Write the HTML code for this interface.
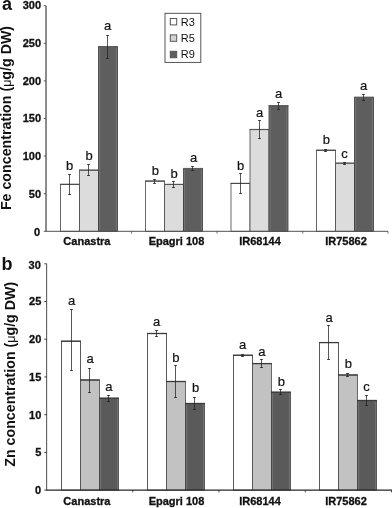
<!DOCTYPE html>
<html lang="en"><head><meta charset="utf-8"><title>Fe and Zn concentration</title>
<style>html,body{margin:0;padding:0;background:#fff}svg{display:block}</style></head>
<body>
<svg width="392" height="508" viewBox="0 0 392 508">
<rect width="392" height="508" fill="#fff"/>
<rect x="60.5" y="184.35" width="19.0" height="46.95" fill="#ffffff" stroke="#444" stroke-width="0.8"/>
<path d="M60.1 184.35H79.9" stroke="#4a4a4a" stroke-width="1.2"/>
<rect x="79.5" y="170.15" width="19.0" height="61.15" fill="#dcdcdc" stroke="#484848" stroke-width="0.8"/>
<path d="M79.1 170.15H98.9" stroke="#555" stroke-width="1.2"/>
<rect x="98.5" y="46.6" width="19.0" height="184.70" fill="#5e5e5e" stroke="#3c3c3c" stroke-width="0.8"/>
<path d="M98.1 46.6H117.9" stroke="#5e5e5e" stroke-width="1.2"/>
<path d="M99.6 47.60V230.8M116.4 47.60V230.8" stroke="#747474" stroke-width="1" fill="none"/>
<rect x="145.5" y="181.1" width="19.0" height="50.20" fill="#ffffff" stroke="#444" stroke-width="0.8"/>
<path d="M145.1 181.1H164.9" stroke="#4a4a4a" stroke-width="1.2"/>
<rect x="164.5" y="184.4" width="19.0" height="46.90" fill="#dcdcdc" stroke="#484848" stroke-width="0.8"/>
<path d="M164.1 184.4H183.9" stroke="#555" stroke-width="1.2"/>
<rect x="183.5" y="168.5" width="19.0" height="62.80" fill="#5e5e5e" stroke="#3c3c3c" stroke-width="0.8"/>
<path d="M183.1 168.5H202.9" stroke="#5e5e5e" stroke-width="1.2"/>
<path d="M184.6 169.50V230.8M201.4 169.50V230.8" stroke="#747474" stroke-width="1" fill="none"/>
<rect x="231" y="183.4" width="19" height="47.90" fill="#ffffff" stroke="#444" stroke-width="0.8"/>
<path d="M230.6 183.4H250.4" stroke="#4a4a4a" stroke-width="1.2"/>
<rect x="250" y="129.5" width="19" height="101.80" fill="#dcdcdc" stroke="#484848" stroke-width="0.8"/>
<path d="M249.6 129.5H269.4" stroke="#555" stroke-width="1.2"/>
<rect x="269" y="105.75" width="19" height="125.55" fill="#5e5e5e" stroke="#3c3c3c" stroke-width="0.8"/>
<path d="M268.6 105.75H288.4" stroke="#5e5e5e" stroke-width="1.2"/>
<path d="M270.1 106.75V230.8M286.9 106.75V230.8" stroke="#747474" stroke-width="1" fill="none"/>
<rect x="316.5" y="150.25" width="19.0" height="81.05" fill="#ffffff" stroke="#444" stroke-width="0.8"/>
<path d="M316.1 150.25H335.9" stroke="#4a4a4a" stroke-width="1.2"/>
<rect x="335.5" y="163.2" width="19.0" height="68.10" fill="#dcdcdc" stroke="#484848" stroke-width="0.8"/>
<path d="M335.1 163.2H354.9" stroke="#555" stroke-width="1.2"/>
<rect x="354.5" y="97.3" width="19.0" height="134.00" fill="#5e5e5e" stroke="#3c3c3c" stroke-width="0.8"/>
<path d="M354.1 97.3H373.9" stroke="#5e5e5e" stroke-width="1.2"/>
<path d="M355.6 98.30V230.8M372.4 98.30V230.8" stroke="#747474" stroke-width="1" fill="none"/>
<path d="M69.5 174.0V195.0M68.0 174.5h3M68.0 194.5h3" stroke="#222" stroke-width="0.75" fill="none"/>
<text x="69.60" y="170.00" font-size="13" text-anchor="middle" fill="#111" stroke="#111" stroke-width="0.2" font-family="Liberation Sans, Arial, sans-serif">b</text>
<path d="M88.5 164.0V176.0M87.0 164.5h3M87.0 175.5h3" stroke="#222" stroke-width="0.75" fill="none"/>
<text x="89.00" y="160.00" font-size="13" text-anchor="middle" fill="#111" stroke="#111" stroke-width="0.2" font-family="Liberation Sans, Arial, sans-serif">b</text>
<path d="M107.5 35.0V59.0M106.0 35.5h3M106.0 58.5h3" stroke="#222" stroke-width="0.75" fill="none"/>
<text x="107.60" y="30.00" font-size="13" text-anchor="middle" fill="#111" stroke="#111" stroke-width="0.2" font-family="Liberation Sans, Arial, sans-serif">a</text>
<path d="M154.5 179.0V184.0M153.0 179.5h3M153.0 183.5h3" stroke="#222" stroke-width="0.75" fill="none"/>
<text x="155.25" y="175.00" font-size="13" text-anchor="middle" fill="#111" stroke="#111" stroke-width="0.2" font-family="Liberation Sans, Arial, sans-serif">b</text>
<path d="M173.5 181.0V188.0M172.0 181.5h3M172.0 187.5h3" stroke="#222" stroke-width="0.75" fill="none"/>
<text x="174.00" y="177.50" font-size="13" text-anchor="middle" fill="#111" stroke="#111" stroke-width="0.2" font-family="Liberation Sans, Arial, sans-serif">b</text>
<path d="M192.5 166.0V171.0M191.0 166.5h3M191.0 170.5h3" stroke="#222" stroke-width="0.75" fill="none"/>
<text x="193.50" y="162.00" font-size="13" text-anchor="middle" fill="#111" stroke="#111" stroke-width="0.2" font-family="Liberation Sans, Arial, sans-serif">a</text>
<path d="M240.5 173.0V194.0M239.0 173.5h3M239.0 193.5h3" stroke="#222" stroke-width="0.75" fill="none"/>
<text x="240.60" y="170.00" font-size="13" text-anchor="middle" fill="#111" stroke="#111" stroke-width="0.2" font-family="Liberation Sans, Arial, sans-serif">b</text>
<path d="M259.5 120.0V139.0M258.0 120.5h3M258.0 138.5h3" stroke="#222" stroke-width="0.75" fill="none"/>
<text x="259.50" y="117.00" font-size="13" text-anchor="middle" fill="#111" stroke="#111" stroke-width="0.2" font-family="Liberation Sans, Arial, sans-serif">a</text>
<path d="M278.5 102.0V110.0M277.0 102.5h3M277.0 109.5h3" stroke="#222" stroke-width="0.75" fill="none"/>
<text x="278.50" y="98.25" font-size="13" text-anchor="middle" fill="#111" stroke="#111" stroke-width="0.2" font-family="Liberation Sans, Arial, sans-serif">a</text>
<path d="M325.5 149.0V152.0M324.0 149.5h3M324.0 151.5h3" stroke="#222" stroke-width="0.75" fill="none"/>
<text x="326.25" y="144.00" font-size="13" text-anchor="middle" fill="#111" stroke="#111" stroke-width="0.2" font-family="Liberation Sans, Arial, sans-serif">b</text>
<path d="M344.5 162.0V165.0M343.0 162.5h3M343.0 164.5h3" stroke="#222" stroke-width="0.75" fill="none"/>
<text x="344.60" y="157.75" font-size="13" text-anchor="middle" fill="#111" stroke="#111" stroke-width="0.2" font-family="Liberation Sans, Arial, sans-serif">c</text>
<path d="M363.5 94.0V101.0M362.0 94.5h3M362.0 100.5h3" stroke="#222" stroke-width="0.75" fill="none"/>
<text x="363.60" y="89.50" font-size="13" text-anchor="middle" fill="#111" stroke="#111" stroke-width="0.2" font-family="Liberation Sans, Arial, sans-serif">a</text>
<path d="M46 5.7V231.3" stroke="#8c8c8c" stroke-width="2" fill="none"/>
<path d="M45.5 231.3H388" stroke="#505050" stroke-width="1" fill="none"/>
<path d="M131.5 231.3v2.3" stroke="#505050" stroke-width="0.8"/>
<path d="M217 231.3v2.3" stroke="#505050" stroke-width="0.8"/>
<path d="M302.75 231.3v2.3" stroke="#505050" stroke-width="0.8"/>
<path d="M388 231.3v2.3" stroke="#505050" stroke-width="0.8"/>
<path d="M43.7 231.30h2.3" stroke="#505050" stroke-width="0.9"/>
<text x="40.10" y="235.70" font-size="11" font-weight="bold" text-anchor="end" fill="#111" stroke="#111" stroke-width="0.3" font-family="Liberation Sans, Arial, sans-serif">0</text>
<path d="M43.7 193.70h2.3" stroke="#505050" stroke-width="0.9"/>
<text x="41.10" y="197.70" font-size="11" font-weight="bold" text-anchor="end" fill="#111" stroke="#111" stroke-width="0.3" font-family="Liberation Sans, Arial, sans-serif">50</text>
<path d="M43.7 156.10h2.3" stroke="#505050" stroke-width="0.9"/>
<text x="41.10" y="159.70" font-size="11" font-weight="bold" text-anchor="end" fill="#111" stroke="#111" stroke-width="0.3" font-family="Liberation Sans, Arial, sans-serif">100</text>
<path d="M43.7 118.50h2.3" stroke="#505050" stroke-width="0.9"/>
<text x="41.10" y="122.10" font-size="11" font-weight="bold" text-anchor="end" fill="#111" stroke="#111" stroke-width="0.3" font-family="Liberation Sans, Arial, sans-serif">150</text>
<path d="M43.7 80.90h2.3" stroke="#505050" stroke-width="0.9"/>
<text x="41.10" y="84.50" font-size="11" font-weight="bold" text-anchor="end" fill="#111" stroke="#111" stroke-width="0.3" font-family="Liberation Sans, Arial, sans-serif">200</text>
<path d="M43.7 43.30h2.3" stroke="#505050" stroke-width="0.9"/>
<text x="41.10" y="46.90" font-size="11" font-weight="bold" text-anchor="end" fill="#111" stroke="#111" stroke-width="0.3" font-family="Liberation Sans, Arial, sans-serif">250</text>
<path d="M43.7 5.70h2.3" stroke="#505050" stroke-width="0.9"/>
<text x="41.10" y="9.30" font-size="11" font-weight="bold" text-anchor="end" fill="#111" stroke="#111" stroke-width="0.3" font-family="Liberation Sans, Arial, sans-serif">300</text>
<text x="86.9" y="244.5" font-size="11" font-weight="bold" text-anchor="middle" fill="#111" stroke="#111" stroke-width="0.3" font-family="Liberation Sans, Arial, sans-serif">Canastra</text>
<text x="176.5" y="244.5" font-size="11" font-weight="bold" text-anchor="middle" fill="#111" stroke="#111" stroke-width="0.3" font-family="Liberation Sans, Arial, sans-serif">Epagri 108</text>
<text x="260" y="244.5" font-size="11" font-weight="bold" text-anchor="middle" fill="#111" stroke="#111" stroke-width="0.3" font-family="Liberation Sans, Arial, sans-serif">IR68144</text>
<text x="346" y="244.5" font-size="11" font-weight="bold" text-anchor="middle" fill="#111" stroke="#111" stroke-width="0.3" font-family="Liberation Sans, Arial, sans-serif">IR75862</text>
<rect x="165" y="13.3" width="35.8" height="49.1" fill="#fff" stroke="#444" stroke-width="0.9"/>
<rect x="170.3" y="18.50" width="6.4" height="6.4" fill="#ffffff" stroke="#555" stroke-width="1"/>
<text x="180.8" y="25.50" font-size="11" fill="#111" font-family="Liberation Sans, Arial, sans-serif">R3</text>
<rect x="170.3" y="34.90" width="6.4" height="6.4" fill="#d4d4d4" stroke="#555" stroke-width="1"/>
<text x="180.8" y="41.90" font-size="11" fill="#111" font-family="Liberation Sans, Arial, sans-serif">R5</text>
<rect x="170.3" y="51.30" width="6.4" height="6.4" fill="#5e5e5e" stroke="#555" stroke-width="1"/>
<text x="180.8" y="58.30" font-size="11" fill="#111" font-family="Liberation Sans, Arial, sans-serif">R9</text>
<rect x="61.5" y="341.2" width="19.0" height="148.90" fill="#ffffff" stroke="#333" stroke-width="0.8"/>
<path d="M61.1 341.2H80.9" stroke="#3a3a3a" stroke-width="1.3"/>
<rect x="80.5" y="380" width="19.0" height="110.10" fill="#c2c2c2" stroke="#4a4a4a" stroke-width="0.8"/>
<path d="M80.1 380H99.9" stroke="#3a3a3a" stroke-width="1.3"/>
<rect x="99.5" y="398.2" width="19.0" height="91.90" fill="#5a5a5a" stroke="#444" stroke-width="0.8"/>
<path d="M99.1 398.2H118.9" stroke="#3a3a3a" stroke-width="1.3"/>
<path d="M100.6 399.20V489.6M117.4 399.20V489.6" stroke="#747474" stroke-width="1" fill="none"/>
<rect x="147.5" y="333.5" width="19.0" height="156.60" fill="#ffffff" stroke="#333" stroke-width="0.8"/>
<path d="M147.1 333.5H166.9" stroke="#3a3a3a" stroke-width="1.3"/>
<rect x="166.5" y="381.5" width="19.0" height="108.60" fill="#c2c2c2" stroke="#4a4a4a" stroke-width="0.8"/>
<path d="M166.1 381.5H185.9" stroke="#3a3a3a" stroke-width="1.3"/>
<rect x="185.5" y="403.5" width="19.0" height="86.60" fill="#5a5a5a" stroke="#444" stroke-width="0.8"/>
<path d="M185.1 403.5H204.9" stroke="#3a3a3a" stroke-width="1.3"/>
<path d="M186.6 404.50V489.6M203.4 404.50V489.6" stroke="#747474" stroke-width="1" fill="none"/>
<rect x="233.5" y="355.25" width="19.0" height="134.85" fill="#ffffff" stroke="#333" stroke-width="0.8"/>
<path d="M233.1 355.25H252.9" stroke="#3a3a3a" stroke-width="1.3"/>
<rect x="252.5" y="363.6" width="19.0" height="126.50" fill="#c2c2c2" stroke="#4a4a4a" stroke-width="0.8"/>
<path d="M252.1 363.6H271.9" stroke="#3a3a3a" stroke-width="1.3"/>
<rect x="271.5" y="392.2" width="19.0" height="97.90" fill="#5a5a5a" stroke="#444" stroke-width="0.8"/>
<path d="M271.1 392.2H290.9" stroke="#3a3a3a" stroke-width="1.3"/>
<path d="M272.6 393.20V489.6M289.4 393.20V489.6" stroke="#747474" stroke-width="1" fill="none"/>
<rect x="319.5" y="342.6" width="19.0" height="147.50" fill="#ffffff" stroke="#333" stroke-width="0.8"/>
<path d="M319.1 342.6H338.9" stroke="#3a3a3a" stroke-width="1.3"/>
<rect x="338.5" y="375" width="19.0" height="115.10" fill="#c2c2c2" stroke="#4a4a4a" stroke-width="0.8"/>
<path d="M338.1 375H357.9" stroke="#3a3a3a" stroke-width="1.3"/>
<rect x="357.5" y="400.5" width="19.0" height="89.60" fill="#5a5a5a" stroke="#444" stroke-width="0.8"/>
<path d="M357.1 400.5H376.9" stroke="#3a3a3a" stroke-width="1.3"/>
<path d="M358.6 401.50V489.6M375.4 401.50V489.6" stroke="#747474" stroke-width="1" fill="none"/>
<path d="M71.5 309.0V371.0M70.0 309.5h3M70.0 370.5h3" stroke="#222" stroke-width="0.75" fill="none"/>
<text x="71.60" y="304.75" font-size="13" text-anchor="middle" fill="#111" stroke="#111" stroke-width="0.2" font-family="Liberation Sans, Arial, sans-serif">a</text>
<path d="M89.5 368.0V393.0M88.0 368.5h3M88.0 392.5h3" stroke="#222" stroke-width="0.75" fill="none"/>
<text x="90.00" y="362.80" font-size="13" text-anchor="middle" fill="#111" stroke="#111" stroke-width="0.2" font-family="Liberation Sans, Arial, sans-serif">a</text>
<path d="M108.5 395.0V402.0M107.0 395.5h3M107.0 401.5h3" stroke="#222" stroke-width="0.75" fill="none"/>
<text x="108.90" y="390.50" font-size="13" text-anchor="middle" fill="#111" stroke="#111" stroke-width="0.2" font-family="Liberation Sans, Arial, sans-serif">a</text>
<path d="M156.5 330.0V337.0M155.0 330.5h3M155.0 336.5h3" stroke="#222" stroke-width="0.75" fill="none"/>
<text x="156.60" y="325.90" font-size="13" text-anchor="middle" fill="#111" stroke="#111" stroke-width="0.2" font-family="Liberation Sans, Arial, sans-serif">a</text>
<path d="M175.5 365.0V398.0M174.0 365.5h3M174.0 397.5h3" stroke="#222" stroke-width="0.75" fill="none"/>
<text x="175.90" y="362.00" font-size="13" text-anchor="middle" fill="#111" stroke="#111" stroke-width="0.2" font-family="Liberation Sans, Arial, sans-serif">b</text>
<path d="M194.5 397.0V410.0M193.0 397.5h3M193.0 409.5h3" stroke="#222" stroke-width="0.75" fill="none"/>
<text x="195.50" y="392.30" font-size="13" text-anchor="middle" fill="#111" stroke="#111" stroke-width="0.2" font-family="Liberation Sans, Arial, sans-serif">b</text>
<path d="M242.5 354.0V357.0M241.0 354.5h3M241.0 356.5h3" stroke="#222" stroke-width="0.75" fill="none"/>
<text x="242.50" y="349.00" font-size="13" text-anchor="middle" fill="#111" stroke="#111" stroke-width="0.2" font-family="Liberation Sans, Arial, sans-serif">a</text>
<path d="M261.5 359.0V368.0M260.0 359.5h3M260.0 367.5h3" stroke="#222" stroke-width="0.75" fill="none"/>
<text x="261.90" y="355.75" font-size="13" text-anchor="middle" fill="#111" stroke="#111" stroke-width="0.2" font-family="Liberation Sans, Arial, sans-serif">a</text>
<path d="M280.5 389.0V395.0M279.0 389.5h3M279.0 394.5h3" stroke="#222" stroke-width="0.75" fill="none"/>
<text x="281.40" y="385.50" font-size="13" text-anchor="middle" fill="#111" stroke="#111" stroke-width="0.2" font-family="Liberation Sans, Arial, sans-serif">b</text>
<path d="M328.5 325.0V360.0M327.0 325.5h3M327.0 359.5h3" stroke="#222" stroke-width="0.75" fill="none"/>
<text x="329.00" y="321.50" font-size="13" text-anchor="middle" fill="#111" stroke="#111" stroke-width="0.2" font-family="Liberation Sans, Arial, sans-serif">a</text>
<path d="M347.5 373.0V377.0M346.0 373.5h3M346.0 376.5h3" stroke="#222" stroke-width="0.75" fill="none"/>
<text x="348.40" y="367.75" font-size="13" text-anchor="middle" fill="#111" stroke="#111" stroke-width="0.2" font-family="Liberation Sans, Arial, sans-serif">b</text>
<path d="M366.5 395.0V406.0M365.0 395.5h3M365.0 405.5h3" stroke="#222" stroke-width="0.75" fill="none"/>
<text x="366.60" y="390.50" font-size="13" text-anchor="middle" fill="#111" stroke="#111" stroke-width="0.2" font-family="Liberation Sans, Arial, sans-serif">c</text>
<path d="M46.65 263.8V490.1" stroke="#3a3a3a" stroke-width="0.9" fill="none"/>
<path d="M46.15 490.1H392" stroke="#262626" stroke-width="1.2" fill="none"/>
<path d="M132.75 490.1v2.3" stroke="#262626" stroke-width="0.8"/>
<path d="M219 490.1v2.3" stroke="#262626" stroke-width="0.8"/>
<path d="M305.25 490.1v2.3" stroke="#262626" stroke-width="0.8"/>
<path d="M391.5 490.1v2.3" stroke="#262626" stroke-width="0.8"/>
<path d="M44.35 490.10h2.3" stroke="#262626" stroke-width="0.9"/>
<text x="41.10" y="494.20" font-size="11" font-weight="bold" text-anchor="end" fill="#111" stroke="#111" stroke-width="0.3" font-family="Liberation Sans, Arial, sans-serif">0</text>
<path d="M44.35 452.38h2.3" stroke="#262626" stroke-width="0.9"/>
<text x="41.30" y="456.28" font-size="11" font-weight="bold" text-anchor="end" fill="#111" stroke="#111" stroke-width="0.3" font-family="Liberation Sans, Arial, sans-serif">5</text>
<path d="M44.35 414.67h2.3" stroke="#262626" stroke-width="0.9"/>
<text x="41.30" y="418.57" font-size="11" font-weight="bold" text-anchor="end" fill="#111" stroke="#111" stroke-width="0.3" font-family="Liberation Sans, Arial, sans-serif">10</text>
<path d="M44.35 376.95h2.3" stroke="#262626" stroke-width="0.9"/>
<text x="41.30" y="380.85" font-size="11" font-weight="bold" text-anchor="end" fill="#111" stroke="#111" stroke-width="0.3" font-family="Liberation Sans, Arial, sans-serif">15</text>
<path d="M44.35 339.23h2.3" stroke="#262626" stroke-width="0.9"/>
<text x="41.30" y="343.13" font-size="11" font-weight="bold" text-anchor="end" fill="#111" stroke="#111" stroke-width="0.3" font-family="Liberation Sans, Arial, sans-serif">20</text>
<path d="M44.35 301.52h2.3" stroke="#262626" stroke-width="0.9"/>
<text x="41.30" y="305.42" font-size="11" font-weight="bold" text-anchor="end" fill="#111" stroke="#111" stroke-width="0.3" font-family="Liberation Sans, Arial, sans-serif">25</text>
<path d="M44.35 263.80h2.3" stroke="#262626" stroke-width="0.9"/>
<text x="40.80" y="269.00" font-size="11" font-weight="bold" text-anchor="end" fill="#111" stroke="#111" stroke-width="0.3" font-family="Liberation Sans, Arial, sans-serif">30</text>
<text x="86.9" y="504.75" font-size="11" font-weight="bold" text-anchor="middle" fill="#111" stroke="#111" stroke-width="0.3" font-family="Liberation Sans, Arial, sans-serif">Canastra</text>
<text x="176.5" y="504.75" font-size="11" font-weight="bold" text-anchor="middle" fill="#111" stroke="#111" stroke-width="0.3" font-family="Liberation Sans, Arial, sans-serif">Epagri 108</text>
<text x="260" y="504.75" font-size="11" font-weight="bold" text-anchor="middle" fill="#111" stroke="#111" stroke-width="0.3" font-family="Liberation Sans, Arial, sans-serif">IR68144</text>
<text x="346" y="504.75" font-size="11" font-weight="bold" text-anchor="middle" fill="#111" stroke="#111" stroke-width="0.3" font-family="Liberation Sans, Arial, sans-serif">IR75862</text>
<text x="2" y="9.8" font-size="18" font-weight="bold" fill="#111" font-family="Liberation Sans, Arial, sans-serif">a</text>
<text x="1.5" y="270.2" font-size="18" font-weight="bold" fill="#111" font-family="Liberation Sans, Arial, sans-serif">b</text>
<text transform="translate(10.9,118) rotate(-90)" font-size="14.23" font-weight="bold" text-anchor="middle" fill="#111" font-family="Liberation Sans, Arial, sans-serif">Fe concentration (<tspan font-weight="normal" font-size="12.5">μ</tspan>g/g DW)</text>
<text transform="translate(14.6,374.3) rotate(-90)" font-size="14.23" font-weight="bold" text-anchor="middle" fill="#111" font-family="Liberation Sans, Arial, sans-serif">Zn concentration (<tspan font-weight="normal" font-size="12.5">μ</tspan>g/g DW)</text>
</svg>
</body></html>
